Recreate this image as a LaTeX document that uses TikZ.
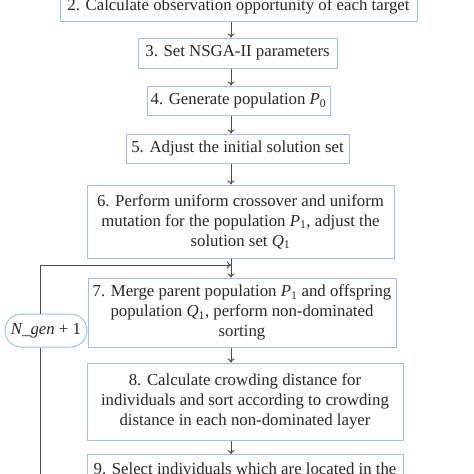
\documentclass[tikz,border=0pt]{standalone}
\usepackage{fontspec}
\setmainfont{Liberation Serif}
\usetikzlibrary{arrows.meta}
\definecolor{boxblue}{RGB}{155,195,228}
\definecolor{txt}{RGB}{40,40,40}
\definecolor{lin}{RGB}{75,75,75}
\begin{document}
\begin{tikzpicture}[x=1pt,y=-1pt,
  box/.style={draw=boxblue, line width=1pt, text=txt, align=center, inner sep=0pt,
    font=\fontsize{16.8}{20}\selectfont},
  conn/.style={draw=lin, line width=1pt},
  arr/.style={conn, -{To[length=4pt,width=7pt]}}]
\useasboundingbox (0,0) rectangle (474,474);
\clip (0,0) rectangle (474,474);
\fill[white] (0,0) rectangle (474,474);

\node[box, minimum width=357pt, minimum height=30pt] (b2) at (238.5,6)
  {2. Calculate observation opportunity of each target};
\node[box, minimum width=199pt, minimum height=30pt] (b3) at (237.5,53)
  {3. Set NSGA-II parameters};
\node[box, minimum width=183pt, minimum height=29pt] (b4) at (238.5,100.5)
  {4. Generate population \textit{P}\textsubscript{0}};
\node[box, minimum width=223pt, minimum height=29pt] (b5) at (237.5,148.5)
  {5. Adjust the initial solution set};
\node[box, minimum width=307pt, minimum height=73pt] (b6) at (240.5,221.5)
  {6. Perform uniform crossover and uniform\\mutation for the population \textit{P}\textsubscript{1}, adjust the\\solution set \textit{Q}\textsubscript{1}};
\node[box, minimum width=308pt, minimum height=69pt] (b7) at (242,312.5)
  {7. Merge parent population \textit{P}\textsubscript{1} and offspring\\population \textit{Q}\textsubscript{1}, perform non-dominated\\sorting};
\node[box, minimum width=316pt, minimum height=77pt] (b8) at (245,401.5)
  {8. Calculate crowding distance for\\individuals and sort according to crowding\\distance in each non-dominated layer};
\node[box, anchor=north, minimum width=316pt, inner ysep=8pt, text depth=40pt] (b9) at (245,454)
  {9. Select individuals which are located in the};
\node[box, minimum width=82pt, minimum height=33pt, rounded corners=16.5pt] (ov) at (46,330.5)
  {\textit{N\_gen} + 1};

\coordinate (ax) at (231,0);
\coordinate (lt) at (40.5,265);
\coordinate (lb) at (40.5,490);

\draw[arr] (b2.south -| ax) -- (b3.north -| ax);
\draw[arr] (b3.south -| ax) -- (b4.north -| ax);
\draw[arr] (b4.south -| ax) -- (b5.north -| ax);
\draw[arr] (b5.south -| ax) -- (b6.north -| ax);
\draw[arr] (b6.south -| ax) -- (b7.north -| ax);
\draw[arr] (b7.south -| ax) -- (b8.north -| ax);
\draw[arr] (b8.south -| ax) -- (b9.north -| ax);
\draw[conn] (lb) -- (ov.south -| lb);
\draw[arr] (ov.north -| lt) -- (lt) -- (lt -| ax);
\end{tikzpicture}
\end{document}
